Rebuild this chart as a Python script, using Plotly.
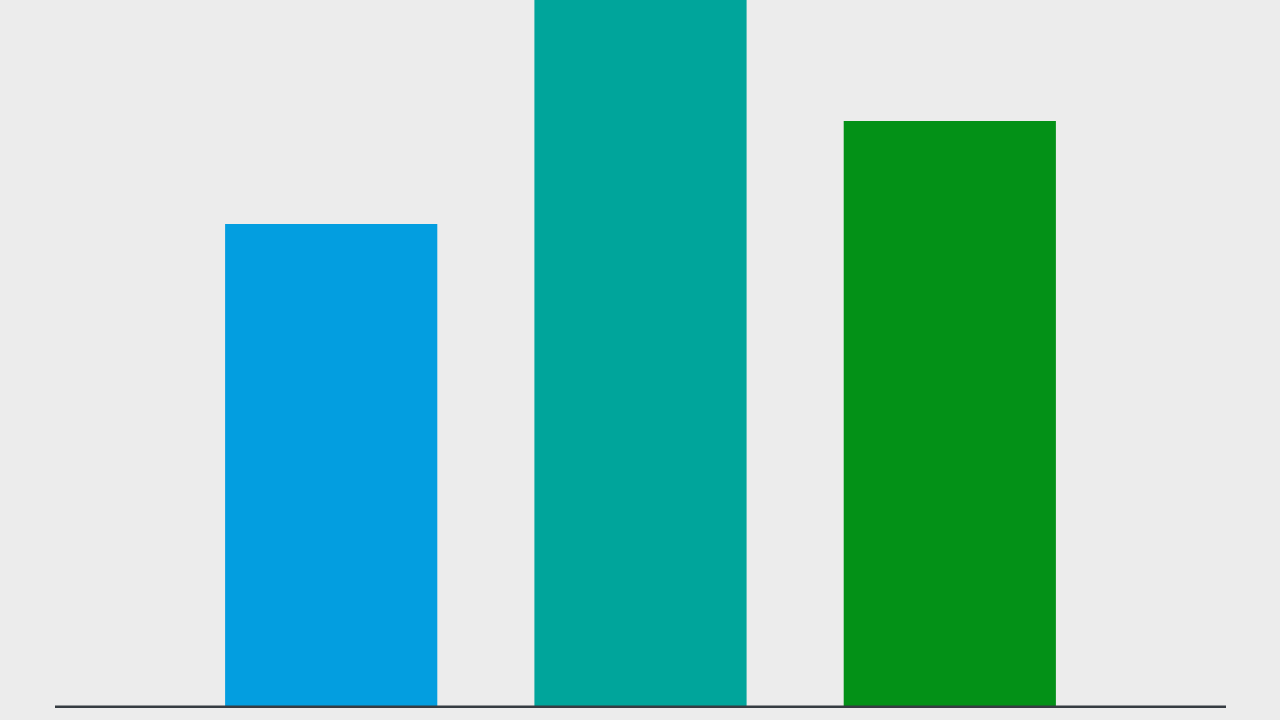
import plotly.graph_objects as go

categories = ["A", "B", "C"]
values = [484, 730, 587]
colors = ["#039ee0", "#00a59b", "#039117"]

fig = go.Figure(go.Bar(x=categories, y=values, marker=dict(color=colors, line=dict(width=0)), width=0.686))

fig.add_shape(type="line", xref="paper", yref="y", x0=0, x1=1, y0=0, y1=0,
              line=dict(color="#363c42", width=5))

fig.update_layout(
    width=1280, height=720,
    margin=dict(l=55, r=54, t=0, b=12),
    paper_bgcolor="#ececec", plot_bgcolor="#ececec",
    showlegend=False,
    xaxis=dict(visible=False, range=[-0.893, 2.893]),
    yaxis=dict(visible=False, range=[0, 708]),
)
fig.write_html("out.html", config={"displayModeBar": False},
               post_script="document.body.style.margin='0';document.body.style.overflow='hidden';document.body.style.background='#ececec';")
